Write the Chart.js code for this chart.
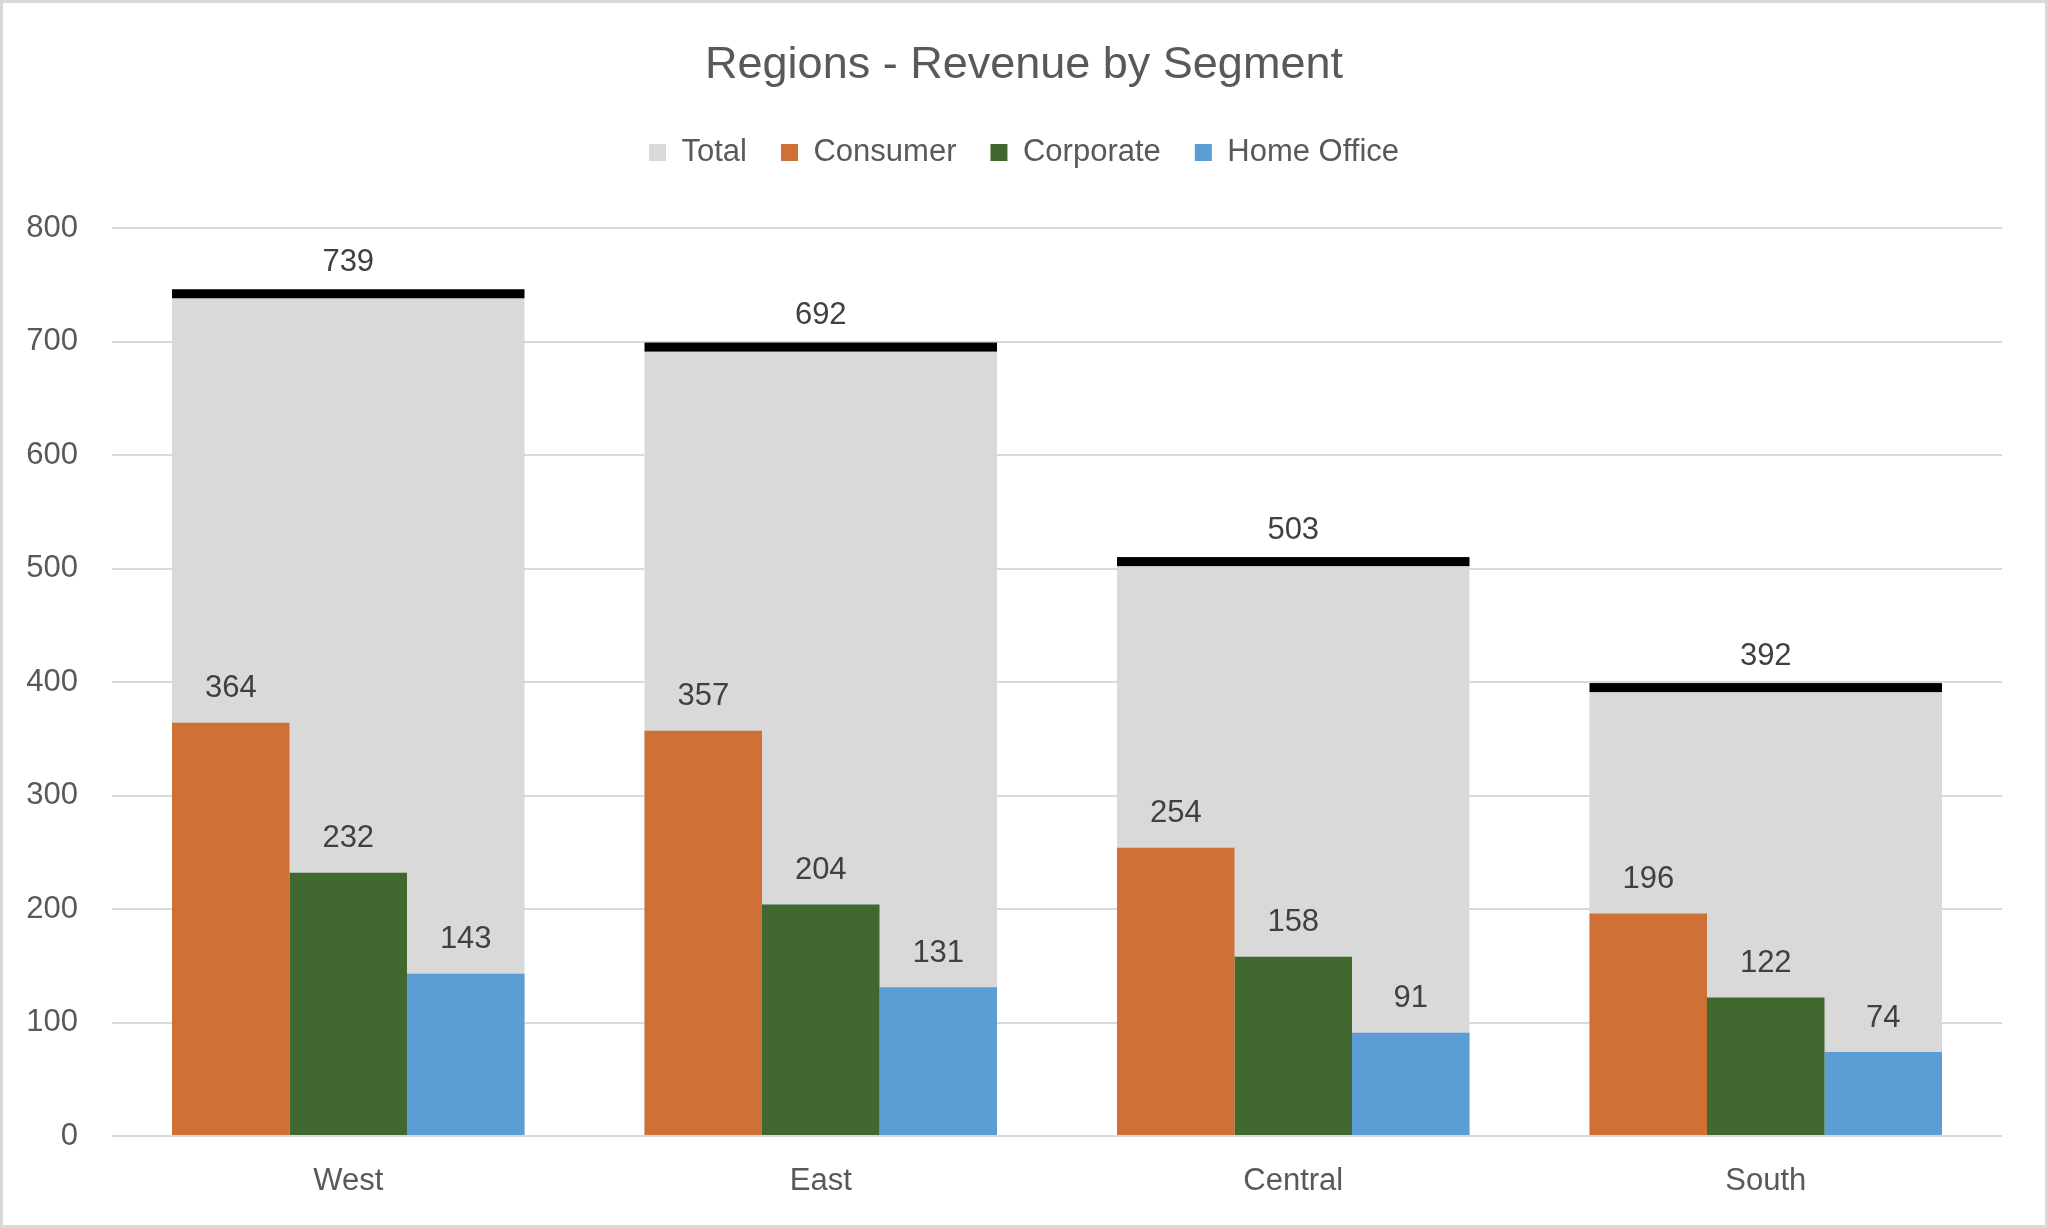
<!DOCTYPE html>
<html>
<head>
<meta charset="utf-8">
<title>Regions - Revenue by Segment</title>
<script src="https://cdn.jsdelivr.net/npm/chart.js@4.4.1/dist/chart.umd.min.js"></script>
<style>
  html, body { margin: 0; padding: 0; background: #fff; overflow: hidden; }
  canvas { display: block; }
</style>
</head>
<body>
<canvas id="segChart" width="2048" height="1228"></canvas>
<script>
// 지역별 세그먼트 매출
const regions = ['West', 'East', 'Central', 'South'];
const totals = [739, 692, 503, 392];
const consumer = [364, 357, 254, 196];
const corporate = [232, 204, 158, 122];
const homeOffice = [143, 131, 91, 74];
const yMin = 0, yMax = 800, yStep = 100;

const TEXT = '#595959';
const LABEL = '#404040';
const GRID = '#D9D9D9';

Chart.defaults.font.family = '"Liberation Sans", Arial, sans-serif';
Chart.defaults.color = TEXT;

// 배경 + 바깥 테두리
const frame = {
  id: 'frame',
  beforeDraw(chart) {
    const { ctx, width, height } = chart;
    ctx.save();
    ctx.fillStyle = '#fff';
    ctx.fillRect(0, 0, width, height);
    ctx.strokeStyle = GRID;
    ctx.lineWidth = 3;
    ctx.strokeRect(1.5, 1.5, width - 3, height - 3);
    ctx.restore();
  }
};

// 값 라벨 + Total 막대 위의 검은 캡
const valueLabels = {
  id: 'valueLabels',
  afterDatasetsDraw(chart) {
    const { ctx } = chart;
    ctx.save();
    ctx.font = '31px "Liberation Sans", Arial, sans-serif';
    ctx.textAlign = 'center';
    ctx.textBaseline = 'middle';
    chart.data.datasets.forEach((ds, i) => {
      const meta = chart.getDatasetMeta(i);
      if (meta.hidden || ds.yAxisID === 'yR') return;
      meta.data.forEach((bar, j) => {
        const isTotal = ds.label === 'Total';
        if (isTotal) {
          ctx.fillStyle = '#000';
          ctx.fillRect(bar.x - bar.width / 2, bar.y - 8, bar.width, 9);
        }
        ctx.fillStyle = LABEL;
        ctx.fillText(String(ds.data[j]), bar.x, bar.y - (isTotal ? 35 : 34));
      });
    });
    ctx.restore();
  }
};

new Chart(document.getElementById('segChart'), {
  type: 'bar',
  data: {
    labels: regions,
    datasets: [
      { label: 'Total', data: totals, backgroundColor: '#D9D9D9', grouped: false, order: 1,
        categoryPercentage: 0.746, barPercentage: 1 },
      { label: 'Consumer', data: consumer, backgroundColor: '#CF7037', order: 0,
        categoryPercentage: 0.746, barPercentage: 1 },
      { label: 'Corporate', data: corporate, backgroundColor: '#41692F', order: 0,
        categoryPercentage: 0.746, barPercentage: 1 },
      { label: 'Home Office', data: homeOffice, backgroundColor: '#5B9DD4', order: 0,
        categoryPercentage: 0.746, barPercentage: 1 }
    ]
  },
  options: {
    responsive: false,
    devicePixelRatio: 1,
    animation: false,
    layout: { padding: { top: 14, left: 24, right: 24, bottom: 0 } },
    scales: {
      x: {
        grid: { display: false, drawTicks: false },
        border: { display: false },
        ticks: { font: { size: 31 }, color: TEXT, padding: 27 },
        afterFit(scale) { scale.height = 92; }
      },
      y: {
        min: yMin, max: yMax,
        grid: { color: GRID, lineWidth: 2, drawTicks: false },
        border: { display: false },
        ticks: { stepSize: yStep, font: { size: 31 }, color: TEXT, padding: 34 },
        afterFit(scale) { scale.width = 88; }
      },
      // 오른쪽 여백용 빈 축
      yR: {
        position: 'right',
        grid: { display: false, drawTicks: false },
        border: { display: false },
        ticks: { display: false },
        afterFit(scale) { scale.width = 22; }
      }
    },
    plugins: {
      title: {
        display: true,
        text: 'Regions - Revenue by Segment',
        color: TEXT,
        font: { size: 45, weight: 'normal' },
        padding: { top: 25, bottom: 10 }
      },
      legend: {
        position: 'top',
        weight: 1800,
        labels: {
          boxWidth: 17, boxHeight: 17, padding: 34,
          font: { size: 31 }, color: TEXT,
          sort: (a, b) => a.datasetIndex - b.datasetIndex
        }
      },
      // 범례와 플롯 사이 간격용
      subtitle: {
        display: true, text: ' ', weight: 1500,
        font: { size: 10 }, padding: { top: 38, bottom: 0 }
      },
      tooltip: { enabled: false }
    }
  },
  plugins: [frame, valueLabels]
});
</script>
</body>
</html>
